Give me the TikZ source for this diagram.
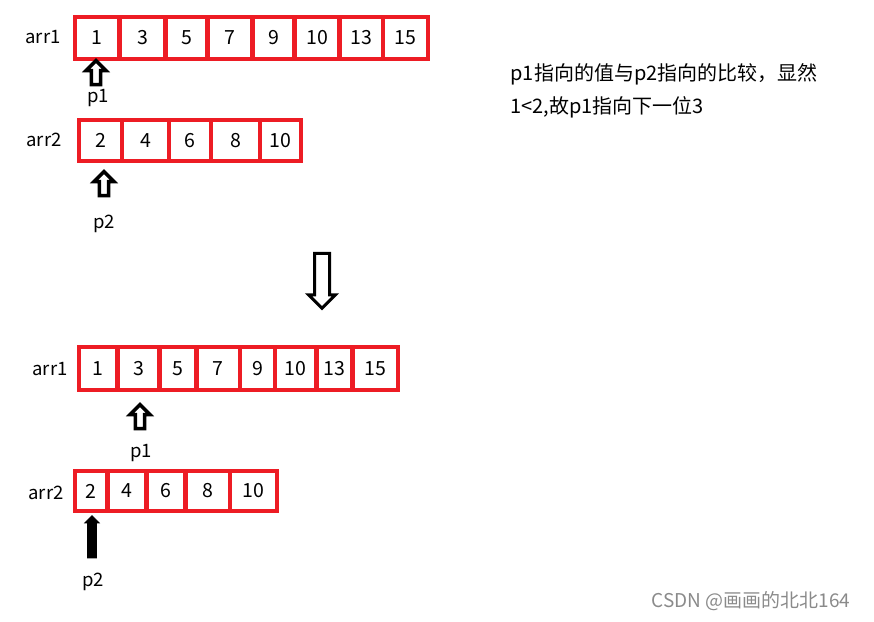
\documentclass[tikz,border=0pt]{standalone}
\usepackage{fontspec}
\setmainfont{Noto Sans CJK SC}
\usetikzlibrary{shapes.arrows}

\definecolor{paintred}{HTML}{ED1C24}
\definecolor{markgray}{HTML}{8A8A8A}

\tikzset{
    cell/.style={draw=paintred, line width=4.5pt, inner sep=0pt, font=\fontsize{19.5}{19.5}\selectfont},
    arrlabel/.style={font=\fontsize{18.5}{18.5}\selectfont},
    ptr/.style={single arrow, draw=black, line width=3.5pt, inner sep=1.8pt,
        minimum height=24pt, minimum width=20pt, single arrow head extend=4pt,
        shape border rotate=90},
    note/.style={anchor=west, font=\fontsize{20}{20}\selectfont},
}

\begin{document}
\begin{tikzpicture}[x=1pt, y=-1pt]
    \useasboundingbox (0, 0) rectangle (874, 621);

    % before the step
    \node [arrlabel] (arrA) at (43, 37) {arr1};
    \foreach \l/\r/\v [count=\i] in {75/119.5/1, 119.5/165.5/3, 165.5/207.5/5, 207.5/252.5/7,
            252.5/294.5/9, 294.5/339.5/10, 339.5/383/13, 383/428/15}
        \node [cell, minimum width={(\r-\l)*1pt}, minimum height=42pt] (a\i) at ({(\l+\r)/2}, 38) {\v};

    \node [arrlabel] (arrB) at (44, 140) {arr2};
    \foreach \l/\r/\v [count=\i] in {79/122/2, 122/169/4, 169/211/6, 211/260/8, 260/301/10}
        \node [cell, minimum width={(\r-\l)*1pt}, minimum height=41pt] (b\i) at ({(\l+\r)/2}, 140.5) {\v};

    \node [ptr] (pA) at (96, 75) {};
    \node [arrlabel] (pAlabel) at (98, 98) {p1};
    \node [ptr] (pB) at (104, 186) {};
    \node [arrlabel] (pBlabel) at (104, 224) {p2};

    \node [note] (noteA) at (507, 74) {p1指向的值与p2指向的比较，显然};
    \node [note] (noteB) at (507, 107) {1<2,故p1指向下一位3};

    % step arrow
    \node [ptr, line width=3pt, minimum height=55pt, minimum width=27pt,
        inner sep=3.5pt, single arrow head extend=4pt, shape border rotate=270] (step) at (322, 277) {};

    % after the step
    \node [arrlabel] (arrC) at (50, 369) {arr1};
    \foreach \l/\r/\v [count=\i] in {79/117.5/1, 117.5/159.5/3, 159.5/196.5/5, 196.5/240/7,
            240/275/9, 275/316.5/10, 316.5/352.5/13, 352.5/398/15}
        \node [cell, minimum width={(\r-\l)*1pt}, minimum height=43pt] (c\i) at ({(\l+\r)/2}, 368.5) {\v};

    \node [arrlabel] (arrD) at (46, 493) {arr2};
    \foreach \l/\r/\v [count=\i] in {75/107.5/2, 107.5/146.5/4, 146.5/185.5/6, 185.5/230/8, 230/277/10}
        \node [cell, minimum width={(\r-\l)*1pt}, minimum height=40pt] (d\i) at ({(\l+\r)/2}, 491) {\v};

    \node [ptr] (pC) at (140, 419) {};
    \node [arrlabel] (pClabel) at (141, 453) {p1};
    \node [ptr, fill=black, line width=1pt, minimum height=42pt, minimum width=14pt,
        inner sep=3pt, single arrow head extend=2pt] (pD) at (92, 539) {};
    \node [arrlabel] (pDlabel) at (93, 582) {p2};

    \node [note, text=markgray, font=\fontsize{19}{19}\selectfont] (mark) at (648, 601) {CSDN @画画的北北164};
\end{tikzpicture}
\end{document}
